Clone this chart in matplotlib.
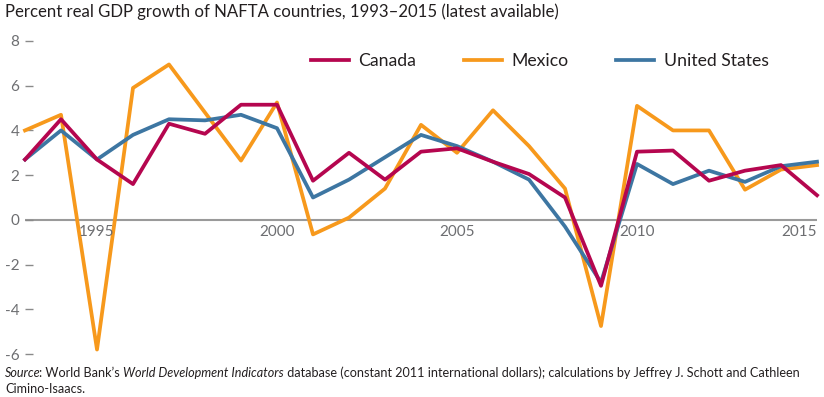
import matplotlib

matplotlib.use("Agg")
import matplotlib.pyplot as plt

plt.rcParams["font.family"] = ["Lato", "DejaVu Sans"]

years = list(range(1993, 2016))
canada = [2.7, 4.5, 2.7, 1.6, 4.3, 3.85, 5.15, 5.15, 1.75, 3.0, 1.8, 3.05,
          3.2, 2.6, 2.05, 1.0, -2.95, 3.05, 3.1, 1.75, 2.2, 2.45, 1.1]
mexico = [4.0, 4.7, -5.8, 5.9, 6.95, 4.8, 2.65, 5.25, -0.65, 0.1, 1.4, 4.25,
          3.0, 4.9, 3.3, 1.4, -4.75, 5.1, 4.0, 4.0, 1.35, 2.25, 2.45]
us = [2.7, 4.0, 2.7, 3.8, 4.5, 4.45, 4.7, 4.1, 1.0, 1.8, 2.8, 3.8,
      3.3, 2.6, 1.8, -0.3, -2.8, 2.5, 1.6, 2.2, 1.7, 2.4, 2.6]
xticks = [1995, 2000, 2005, 2010, 2015]
yticks = [-6, -4, -2, 0, 2, 4, 6, 8]

W, H = 824, 397
fig = plt.figure(figsize=(W / 100, H / 100), dpi=100)
ax = fig.add_axes([25 / W, 43 / H, (817 - 25) / W, (354 - 41) / H])

ax.axhline(0, color="#9a9a9a", lw=1.5, zorder=1)
ax.plot(years, canada, color="#b5064f", lw=2.7, label="Canada", zorder=3, clip_on=False)
ax.plot(years, mexico, color="#f7991c", lw=2.7, label="Mexico", zorder=2, clip_on=False)
ax.plot(years, us, color="#3d76a2", lw=2.7, label="United States", zorder=2.5, clip_on=False)

ax.set_xlim(1993, 2015)
ax.set_ylim(-6, 8)
for s in ax.spines.values():
    s.set_visible(False)

ax.set_yticks(yticks, labels=[str(v) for v in yticks])
ax.tick_params(axis="y", direction="in", length=6, width=1, color="#8a8a8a",
               pad=4, labelsize=11, labelcolor="#6d6e71")
ax.set_xticks([])
for yr in xticks:
    ax.text(yr, -0.25, str(yr), ha="right" if yr == 2015 else "center", va="top",
            fontsize=11, color="#6d6e71")

leg = ax.legend(loc="upper left", bbox_to_anchor=(270 / 792, 1.012), ncol=3, frameon=False,
                fontsize=12.7, handlelength=2.15, handletextpad=0.55, columnspacing=2.7)
for t in leg.get_texts():
    t.set_color("#231f20")

fig.text(5 / W, 1 - 12 / H, "Percent real GDP growth of NAFTA countries, 1993\u20132015 (latest available)",
         ha="left", va="center", fontsize=12.1, color="#231f20")

# source note with mixed italics
fig.canvas.draw()
renderer = fig.canvas.get_renderer()
pieces = [("Source", "italic"), (": World Bank\u2019s ", "normal"),
          ("World Development Indicators", "italic"),
          (" database (constant 2011 international dollars); calculations by Jeffrey J. Schott and Cathleen", "normal")]
x = 5
for i, (txt, style) in enumerate(pieces):
    t = fig.text(x / W, 1 - 373 / H, txt, ha="left", va="center", fontsize=9.05,
                 style=style, color="#231f20")
    bb = t.get_window_extent(renderer)
    x += bb.width - (1.5 if i == 0 else 0)
fig.text(5 / W, 1 - 389 / H, "Cimino-Isaacs.", ha="left", va="center", fontsize=9.05, color="#231f20")

fig.savefig("out.png", dpi=100)
